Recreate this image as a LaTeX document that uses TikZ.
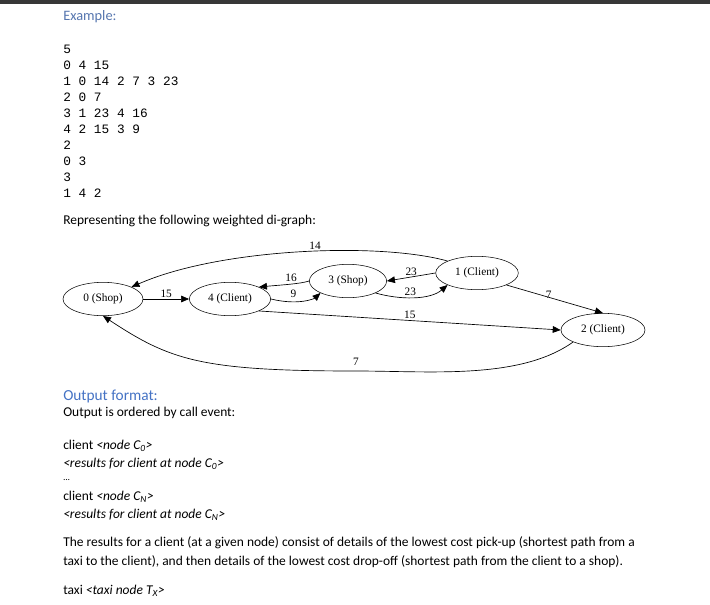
\documentclass[tikz,border=0pt]{standalone}
\usepackage{fontspec}
\setmainfont{Carlito}
\newfontfamily\gfont{Liberation Serif}
\newfontfamily\mfont{Liberation Mono}
\usetikzlibrary{arrows.meta,shapes.geometric}
\definecolor{headblue}{RGB}{68,114,196}
\definecolor{barcol}{RGB}{55,55,55}
\tikzset{
  vtx/.style={draw,ellipse,minimum height=25pt,inner xsep=1pt,font=\gfont\fontsize{8.5}{10}\selectfont},
  edge/.style={-{Triangle[length=6pt,width=5pt]},line width=0.5pt},
  wl/.style={font=\gfont\fontsize{8.5}{10}\selectfont,inner sep=1pt},
  txt/.style={anchor=west,inner sep=0pt,font=\fontsize{10.1}{12}\selectfont},
  code/.style={anchor=west,inner sep=0pt,font=\mfont\fontsize{9.6}{10}\selectfont},
}
\begin{document}
\begin{tikzpicture}[x=0.75pt,y=-0.75pt]
\useasboundingbox (0,0) rectangle (710,604);
\fill[barcol] (0,0) rectangle (710,4);
\node[txt,text=headblue!70!gray,font=\fontsize{10.8}{12}\selectfont] (ex) at (63,17) {Example:};
\foreach \t [count=\i] in {5,0 4 15,1 0 14 2 7 3 23,2 0 7,3 1 23 4 16,4 2 15 3 9,2,0 3,3,1 4 2}
  \node[code] (c\i) at (63,{49+16*(\i-1)}) {\t};
\node[txt] (rep) at (63,221) {Representing the following weighted di-graph:};
% graph
\node[vtx,minimum width=60pt] (n0) at (103,299) {0 (Shop)};
\node[vtx,minimum width=61pt] (n4) at (230,299) {4 (Client)};
\node[vtx,minimum width=58pt] (n3) at (348,281) {3 (Shop)};
\node[vtx,minimum width=62pt] (n1) at (477,273) {1 (Client)};
\node[vtx,minimum width=63pt] (n2) at (603,330) {2 (Client)};
\draw[edge] (n1.north west) .. controls (380,242) and (220,248) .. (n0.north east) node[wl,pos=0.45,above] {14};
\draw[edge] (n0) -- (n4) node[wl,midway,above] {15};
\draw[edge] (n3.west) .. controls (300,284) and (280,285) .. (n4.north east) node[wl,pos=0.45,above=1pt] {16};
\draw[edge] (n4.east) .. controls (300,306) and (315,298) .. (n3.south west) node[wl,pos=0.3,above=2pt] {9};
\draw[edge] (n1.west) -- (n3.east) node[wl,midway,above] {23};
\draw[edge] (n3.south east) .. controls (400,300) and (430,300) .. (n1.south west) node[wl,pos=0.45,above=0pt] {23};
\draw[edge] (n1.south east) -- (n2.north) node[wl,pos=0.35,right=3pt] {7};
\draw[edge] (n4.south east) -- (n2.west) node[wl,pos=0.5,above] {15};
\draw[edge] (n2.south west) .. controls (520,380) and (430,371) .. (356,371) .. controls (200,371) and (170,360) .. (n0.south);
\node[wl] (w7) at (356,362) {7};
% text below
\node[txt,text=headblue,font=\fontsize{11.5}{13}\selectfont] (of) at (63,396) {Output format:};
\node[txt] (t1) at (63,413) {Output is ordered by call event:};
\node[txt] (t2) at (63,446) {client \textit{<node C\textsubscript{0}>}};
\node[txt] (t3) at (63,464) {\textit{<results for client at node C\textsubscript{0}>}};
\node[txt] (t4) at (63,480) {\textit{\fontsize{7}{8}\selectfont ...}};
\node[txt] (t5) at (63,497) {client \textit{<node C\textsubscript{N}>}};
\node[txt] (t6) at (63,515) {\textit{<results for client at node C\textsubscript{N}>}};
\node[txt] (t7) at (63,543) {The results for a client (at a given node) consist of details of the lowest cost pick-up (shortest path from a};
\node[txt] (t8) at (63,562) {taxi to the client), and then details of the lowest cost drop-off (shortest path from the client to a shop).};
\node[txt] (t9) at (63,591) {taxi \textit{<taxi node T\textsubscript{X}>}};
\end{tikzpicture}
\end{document}
